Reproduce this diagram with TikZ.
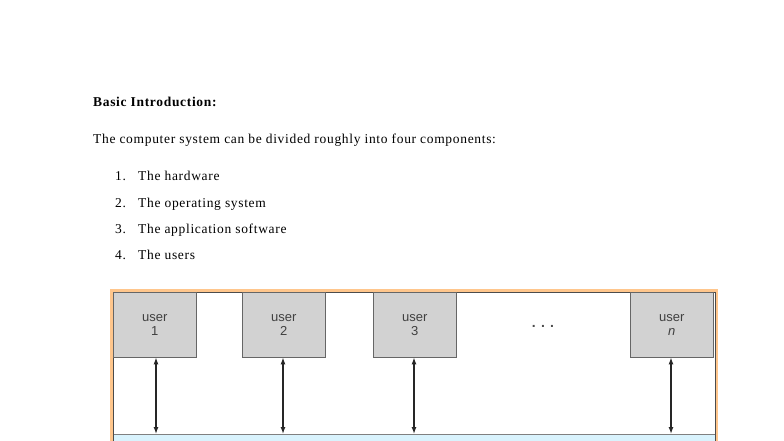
\documentclass[tikz,border=0pt]{standalone}
\usepackage{fontspec}
\usetikzlibrary{arrows.meta}
\setmainfont{Liberation Serif}[LetterSpace=5]
\newfontfamily\diag{Liberation Sans}
\begin{document}
\begin{tikzpicture}[x=1pt,y=-1pt,
  txt/.style={anchor=base west,inner sep=0pt,font=\fontsize{13.5}{15}\selectfont},
  userbox/.style={draw=gray!80!black,fill=gray!35,minimum width=83pt,minimum height=65pt,anchor=north west,inner sep=0pt,align=center,font=\diag\fontsize{13}{14}\selectfont,text=black!75},
  link/.style={<->,>={Latex[length=7pt,width=5pt]},line width=1.3pt,black!85}]
\useasboundingbox (0,0) rectangle (784,441);
\node[txt,font=\bfseries\fontsize{13.5}{15}\selectfont] (t0) at (93,107) {Basic Introduction:};
\node[txt] (t1) at (93,143) {The computer system can be divided roughly into four components:};
\foreach \n/\s/\y in {1/The hardware/180,2/The operating system/207,3/The application software/233,4/The users/259}{
  \node[txt] (n\n) at (115,\y) {\n.};
  \node[txt] (l\n) at (138,\y) {\s};
}
\fill[orange!45] (110,289) rectangle (718,441);
\fill[white] (113,292) rectangle (715,441);
\draw[black!70,line width=0.8pt] (113,441) -- (113,292) -- (715,292) -- (715,441);
\fill[cyan!15] (113.5,434) rectangle (714.5,441);
\draw[gray] (113.5,434) -- (714.5,434);
\node[userbox] (u1) at (113,292) {user\\1};
\node[userbox] (u2) at (242,292) {user\\2};
\node[userbox] (u3) at (373,292) {user\\3};
\node[userbox] (un) at (630,292) {user\\\textit{n}};
\node[font=\diag\bfseries\fontsize{14}{14}\selectfont,text=black!70] (dots) at (543,326) {. . .};
\foreach \u/\x in {u1/156,u2/283,u3/414,un/671}{
  \coordinate (b\u) at (\x,434);
  \draw[link] (\u.south -| b\u) -- (b\u);
}
\end{tikzpicture}
\end{document}
